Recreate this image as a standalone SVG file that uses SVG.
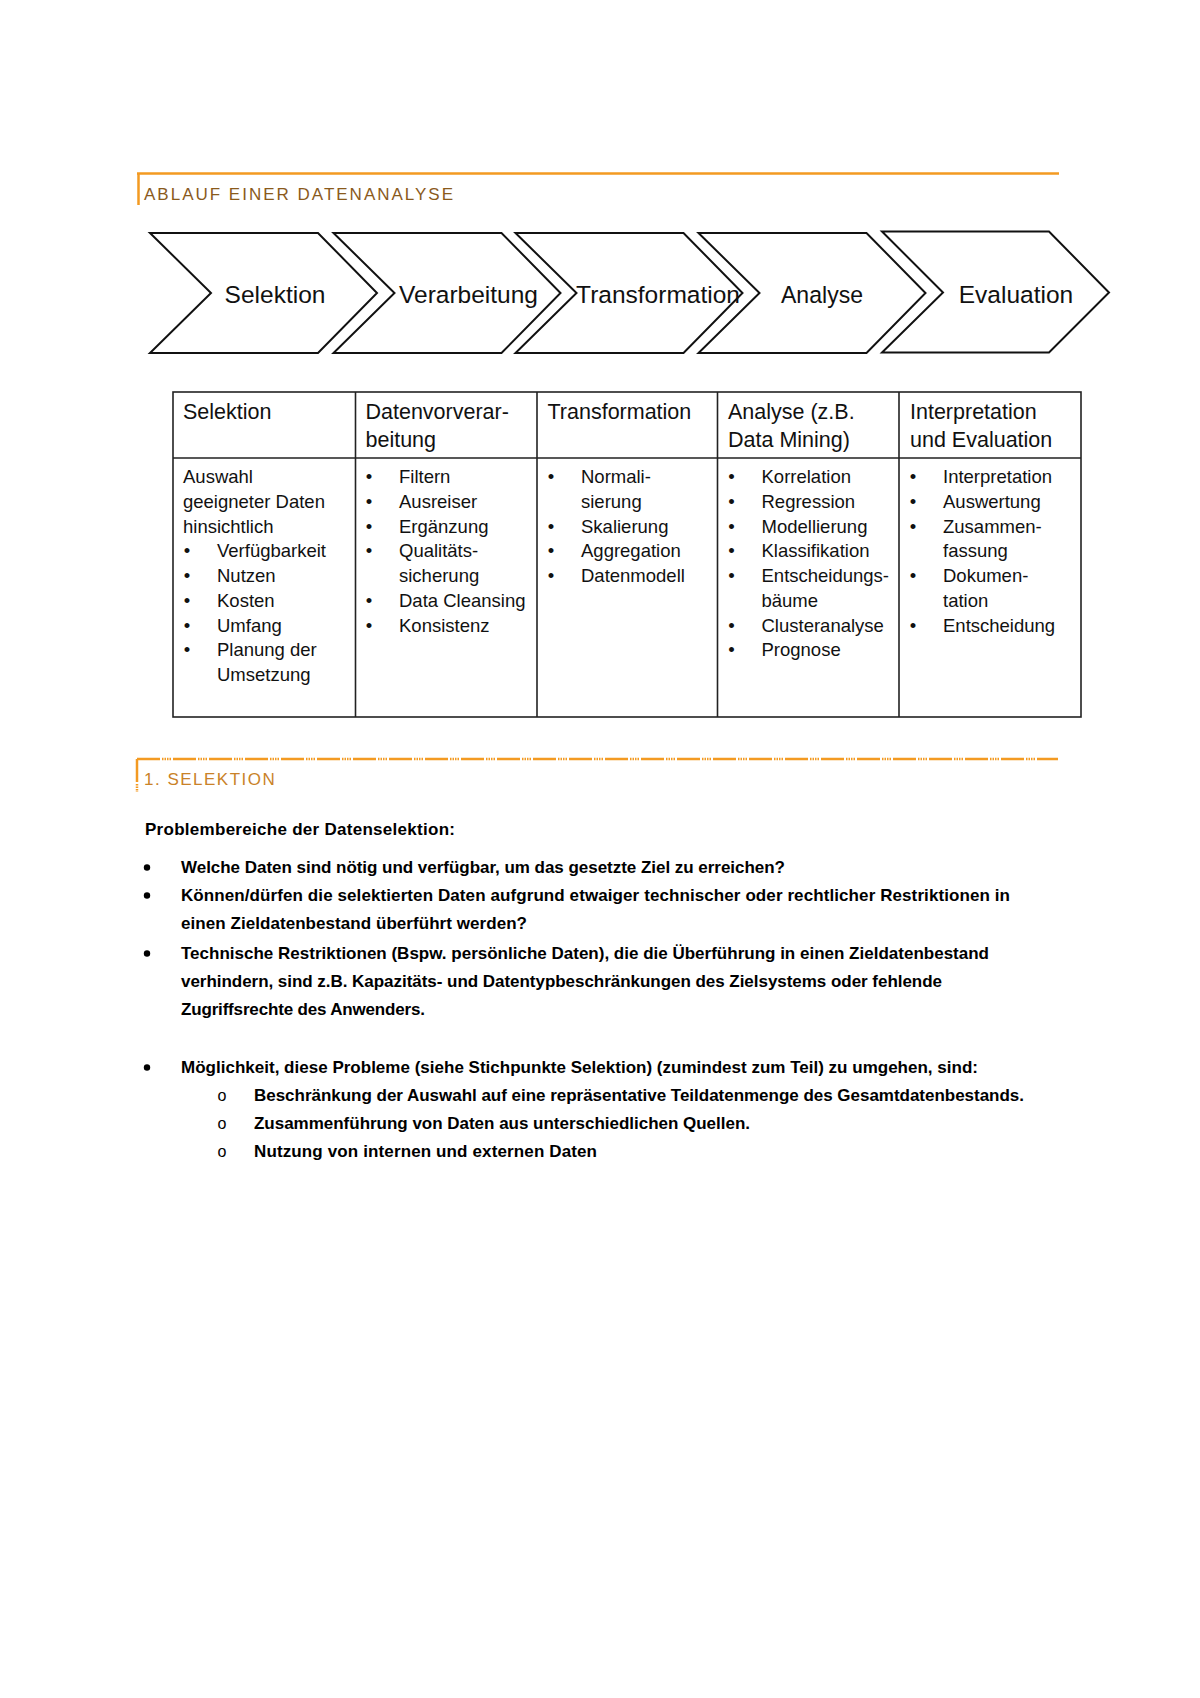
<svg xmlns="http://www.w3.org/2000/svg" width="1200" height="1698" viewBox="0 0 1200 1698">
<style>
.bg{fill:#ffffff}
.orange{stroke:#F39A22;stroke-width:2.5;fill:none}
.dashed{stroke:#F39A22;stroke-width:2.5;fill:none;stroke-dasharray:23 2 1.5 1 1.5 1 1.5 1 1.5 2}
.h1{font-family:"Liberation Sans",Arial,sans-serif;font-size:17px;letter-spacing:2px;fill:#8A5A1C}
.h2{font-family:"Liberation Sans",Arial,sans-serif;font-size:17px;letter-spacing:1.5px;fill:#C98228}
.chev{fill:#ffffff;stroke:#111111;stroke-width:2;stroke-linejoin:miter}
.clabel{font-family:"Liberation Sans",Arial,sans-serif;font-size:24.5px;fill:#111111;text-anchor:middle}
.grid{stroke:#222222;stroke-width:1.6;fill:none}
.th{font-family:"Liberation Sans",Arial,sans-serif;font-size:21.5px;fill:#111111}
.td{font-family:"Liberation Sans",Arial,sans-serif;font-size:18.5px;fill:#111111}
.b{font-family:"Liberation Sans",Arial,sans-serif;font-size:17px;font-weight:bold;fill:#000000}
.dot{fill:#000000}
.sub{font-family:"Liberation Sans",Arial,sans-serif;font-size:16px;fill:#000000;text-anchor:middle}
</style>
<rect class="bg" x="0" y="0" width="1200" height="1698"/>

<g id="heading-ablauf">
<path class="orange" d="M137,173.5 H1059 M138.5,173 V205"/>
<text class="h1" x="144" y="199.5">ABLAUF EINER DATENANALYSE</text>
</g>

<g id="process-chevrons">
<g id="chevron-selektion">
<polygon class="chev" points="150,233 318,233 377,293 318,353 150,353 211,293"/>
<text class="clabel" x="275" y="302.5">Selektion</text>
</g>
<g id="chevron-verarbeitung">
<polygon class="chev" points="333.5,233 501.5,233 560.5,293 501.5,353 333.5,353 394.5,293"/>
<text class="clabel" x="468.5" y="302.5">Verarbeitung</text>
</g>
<g id="chevron-transformation">
<polygon class="chev" points="515.5,233 683.5,233 742.5,293 683.5,353 515.5,353 576.5,293"/>
<text class="clabel" x="658" y="302.5">Transformation</text>
</g>
<g id="chevron-analyse">
<polygon class="chev" points="698.5,233 866.5,233 925.5,293 866.5,353 698.5,353 759.5,293"/>
<text class="clabel" x="822" y="302.5" textLength="82" lengthAdjust="spacingAndGlyphs">Analyse</text>
</g>
<g id="chevron-evaluation">
<polygon class="chev" points="882,231.5 1049,231.5 1109,292.5 1049,352.5 882,352.5 943,292.5"/>
<text class="clabel" x="1016" y="302.5">Evaluation</text>
</g>
</g>

<g id="phase-table">
<g id="table-grid">
<rect class="grid" x="173" y="392" width="908" height="325"/>
<path class="grid" d="M173,458 H1081 M355.5,392 V717 M537,392 V717 M717.5,392 V717 M899,392 V717"/>
</g>
<g id="col-selektion">
<text class="th" x="183" y="418.5">Selektion</text>
<text class="td" x="183" y="483.3">Auswahl</text>
<text class="td" x="183" y="508">geeigneter Daten</text>
<text class="td" x="183" y="532.7">hinsichtlich</text>
<text class="td" x="187" y="557.4" text-anchor="middle">•</text><text class="td" x="217" y="557.4">Verfügbarkeit</text>
<text class="td" x="187" y="582.1" text-anchor="middle">•</text><text class="td" x="217" y="582.1">Nutzen</text>
<text class="td" x="187" y="606.8" text-anchor="middle">•</text><text class="td" x="217" y="606.8">Kosten</text>
<text class="td" x="187" y="631.5" text-anchor="middle">•</text><text class="td" x="217" y="631.5">Umfang</text>
<text class="td" x="187" y="656.2" text-anchor="middle">•</text><text class="td" x="217" y="656.2">Planung der</text>
<text class="td" x="217" y="680.9">Umsetzung</text>
</g>
<g id="col-datenvorverarbeitung">
<text class="th" x="365.5" y="418.5">Datenvorverar-</text>
<text class="th" x="365.5" y="447">beitung</text>
<text class="td" x="369" y="483.3" text-anchor="middle">•</text><text class="td" x="399" y="483.3">Filtern</text>
<text class="td" x="369" y="508" text-anchor="middle">•</text><text class="td" x="399" y="508">Ausreiser</text>
<text class="td" x="369" y="532.7" text-anchor="middle">•</text><text class="td" x="399" y="532.7">Ergänzung</text>
<text class="td" x="369" y="557.4" text-anchor="middle">•</text><text class="td" x="399" y="557.4">Qualitäts-</text>
<text class="td" x="399" y="582.1">sicherung</text>
<text class="td" x="369" y="606.8" text-anchor="middle">•</text><text class="td" x="399" y="606.8">Data Cleansing</text>
<text class="td" x="369" y="631.5" text-anchor="middle">•</text><text class="td" x="399" y="631.5">Konsistenz</text>
</g>
<g id="col-transformation">
<text class="th" x="547.5" y="418.5">Transformation</text>
<text class="td" x="551" y="483.3" text-anchor="middle">•</text><text class="td" x="581" y="483.3">Normali-</text>
<text class="td" x="581" y="508">sierung</text>
<text class="td" x="551" y="532.7" text-anchor="middle">•</text><text class="td" x="581" y="532.7">Skalierung</text>
<text class="td" x="551" y="557.4" text-anchor="middle">•</text><text class="td" x="581" y="557.4">Aggregation</text>
<text class="td" x="551" y="582.1" text-anchor="middle">•</text><text class="td" x="581" y="582.1">Datenmodell</text>
</g>
<g id="col-analyse">
<text class="th" x="728" y="418.5">Analyse (z.B.</text>
<text class="th" x="728" y="447">Data Mining)</text>
<text class="td" x="731.5" y="483.3" text-anchor="middle">•</text><text class="td" x="761.5" y="483.3">Korrelation</text>
<text class="td" x="731.5" y="508" text-anchor="middle">•</text><text class="td" x="761.5" y="508">Regression</text>
<text class="td" x="731.5" y="532.7" text-anchor="middle">•</text><text class="td" x="761.5" y="532.7">Modellierung</text>
<text class="td" x="731.5" y="557.4" text-anchor="middle">•</text><text class="td" x="761.5" y="557.4">Klassifikation</text>
<text class="td" x="731.5" y="582.1" text-anchor="middle">•</text><text class="td" x="761.5" y="582.1">Entscheidungs-</text>
<text class="td" x="761.5" y="606.8">bäume</text>
<text class="td" x="731.5" y="631.5" text-anchor="middle">•</text><text class="td" x="761.5" y="631.5">Clusteranalyse</text>
<text class="td" x="731.5" y="656.2" text-anchor="middle">•</text><text class="td" x="761.5" y="656.2">Prognose</text>
</g>
<g id="col-interpretation">
<text class="th" x="910" y="418.5">Interpretation</text>
<text class="th" x="910" y="447">und Evaluation</text>
<text class="td" x="913" y="483.3" text-anchor="middle">•</text><text class="td" x="943" y="483.3">Interpretation</text>
<text class="td" x="913" y="508" text-anchor="middle">•</text><text class="td" x="943" y="508">Auswertung</text>
<text class="td" x="913" y="532.7" text-anchor="middle">•</text><text class="td" x="943" y="532.7">Zusammen-</text>
<text class="td" x="943" y="557.4">fassung</text>
<text class="td" x="913" y="582.1" text-anchor="middle">•</text><text class="td" x="943" y="582.1">Dokumen-</text>
<text class="td" x="943" y="606.8">tation</text>
<text class="td" x="913" y="631.5" text-anchor="middle">•</text><text class="td" x="943" y="631.5">Entscheidung</text>
</g>
</g>

<g id="heading-selektion">
<path class="dashed" d="M137,759 H1058"/>
<path class="dashed" d="M137,759 V792"/>
<text class="h2" x="144" y="785">1. SELEKTION</text>
</g>

<g id="selektion-text">
<text class="b" x="145" y="835" textLength="310" lengthAdjust="spacing">Problembereiche der Datenselektion:</text>
<circle class="dot" cx="147" cy="867.5" r="3.2"/>
<text class="b" x="181" y="873" textLength="604" lengthAdjust="spacing">Welche Daten sind nötig und verfügbar, um das gesetzte Ziel zu erreichen?</text>
<circle class="dot" cx="147" cy="895.5" r="3.2"/>
<text class="b" x="181" y="901" textLength="829" lengthAdjust="spacing">Können/dürfen die selektierten Daten aufgrund etwaiger technischer oder rechtlicher Restriktionen in</text>
<text class="b" x="181" y="929" textLength="346" lengthAdjust="spacing">einen Zieldatenbestand überführt werden?</text>
<circle class="dot" cx="147" cy="953.5" r="3.2"/>
<text class="b" x="181" y="959" textLength="808" lengthAdjust="spacing">Technische Restriktionen (Bspw. persönliche Daten), die die Überführung in einen Zieldatenbestand</text>
<text class="b" x="181" y="987" textLength="761" lengthAdjust="spacing">verhindern, sind z.B. Kapazitäts- und Datentypbeschränkungen des Zielsystems oder fehlende</text>
<text class="b" x="181" y="1015" textLength="244" lengthAdjust="spacing">Zugriffsrechte des Anwenders.</text>
<circle class="dot" cx="147" cy="1067.5" r="3.2"/>
<text class="b" x="181" y="1073" textLength="797" lengthAdjust="spacing">Möglichkeit, diese Probleme (siehe Stichpunkte Selektion) (zumindest zum Teil) zu umgehen, sind:</text>
<text class="sub" x="222" y="1101">o</text>
<text class="b" x="254" y="1101" textLength="770" lengthAdjust="spacing">Beschränkung der Auswahl auf eine repräsentative Teildatenmenge des Gesamtdatenbestands.</text>
<text class="sub" x="222" y="1129">o</text>
<text class="b" x="254" y="1129" textLength="496" lengthAdjust="spacing">Zusammenführung von Daten aus unterschiedlichen Quellen.</text>
<text class="sub" x="222" y="1157">o</text>
<text class="b" x="254" y="1157" textLength="343" lengthAdjust="spacing">Nutzung von internen und externen Daten</text>
</g>
</svg>
